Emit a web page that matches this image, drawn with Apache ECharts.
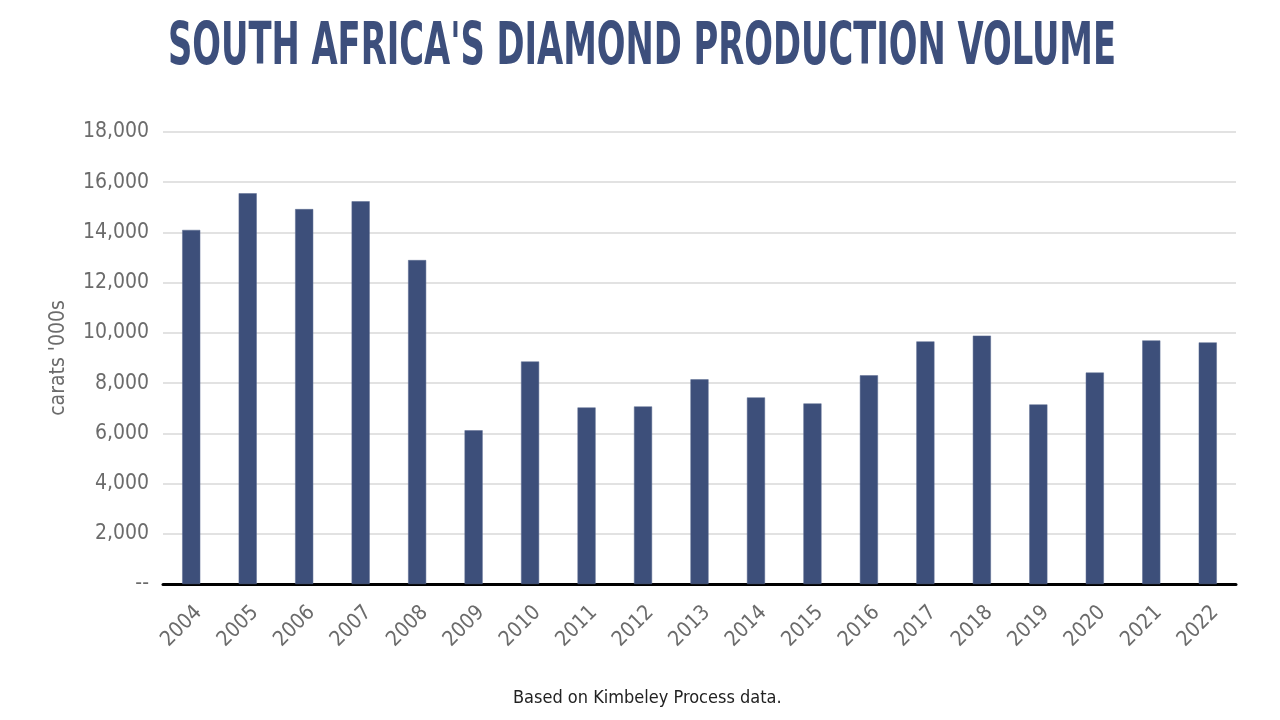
<!DOCTYPE html>
<html>
<head>
<meta charset="utf-8">
<script src="https://cdn.jsdelivr.net/npm/echarts@6/dist/echarts.min.js"></script>
<style>
  html, body { margin: 0; padding: 0; background: #fff; }
  #main { width: 1280px; height: 720px; }
</style>
</head>
<body>
<div id="main"></div>
<script>
// data (carats '000s)
const years = ['2004', '2005', '2006', '2007', '2008', '2009', '2010', '2011', '2012', '2013',
  '2014', '2015', '2016', '2017', '2018', '2019', '2020', '2021', '2022'];
const production = [14100, 15560, 14930, 15240, 12900, 6120, 8860, 7030, 7070, 8150,
  7430, 7190, 8310, 9660, 9890, 7150, 8420, 9700, 9620];
const yTicks = [0, 2000, 4000, 6000, 8000, 10000, 12000, 14000, 16000, 18000];

const titleText = "SOUTH AFRICA'S DIAMOND PRODUCTION VOLUME";
const narrow = '"DejaVu Sans Condensed", "Liberation Sans Narrow", sans-serif';

// title font is a tall condensed face, squeeze a bold condensed one to the same width
const titleSize = 58;
const titleWidth = 948;
let ctx = document.createElement('canvas').getContext('2d');
ctx.font = 'bold ' + titleSize + 'px ' + narrow;
let squeeze = titleWidth / ctx.measureText(titleText).width;

let chart = echarts.init(document.getElementById('main'));
let option = {
  backgroundColor: '#fff',
  animation: false,
  title: {
    text: 'Based on Kimbeley Process data.',
    left: 508,
    top: 684,
    textStyle: { fontFamily: narrow, fontWeight: 'normal', fontSize: 18, color: '#222' }
  },
  graphic: [
    {
      type: 'text',
      x: 642,
      y: 49,
      scaleX: squeeze,
      style: {
        text: titleText,
        x: 0,
        y: 0,
        align: 'center',
        verticalAlign: 'middle',
        fontFamily: narrow,
        fontWeight: 'bold',
        fontSize: titleSize,
        fill: '#3d4f7c'
      }
    }
  ],
  grid: { left: 163, right: 44, top: 132, bottom: 136 },
  xAxis: {
    type: 'category',
    data: years,
    axisLine: { lineStyle: { color: '#000', width: 3 } },
    axisTick: { show: false },
    axisLabel: {
      rotate: 45, fontFamily: narrow, fontSize: 21, color: '#6b6b6b', margin: 18,
      verticalAlign: 'top'
    }
  },
  yAxis: {
    type: 'value',
    min: yTicks[0],
    max: yTicks[yTicks.length - 1],
    interval: yTicks[1] - yTicks[0],
    name: "carats '000s",
    nameLocation: 'middle',
    nameGap: 94,
    nameTextStyle: { fontFamily: narrow, fontSize: 21, color: '#6b6b6b' },
    axisLine: { show: false },
    axisTick: { show: false },
    splitLine: { lineStyle: { color: '#d9d9d9', width: 1.5 } },
    axisLabel: {
      fontFamily: narrow, fontSize: 21, color: '#6b6b6b', margin: 14,
      formatter: v => v === 0 ? '--' : v.toLocaleString('en-US')
    }
  },
  series: [
    {
      type: 'bar',
      data: production,
      barWidth: '32%',
      itemStyle: { color: '#3d4f7a', borderColor: '#5a6a90', borderWidth: 0.5 }
    }
  ]
};
chart.setOption(option);
</script>
</body>
</html>
